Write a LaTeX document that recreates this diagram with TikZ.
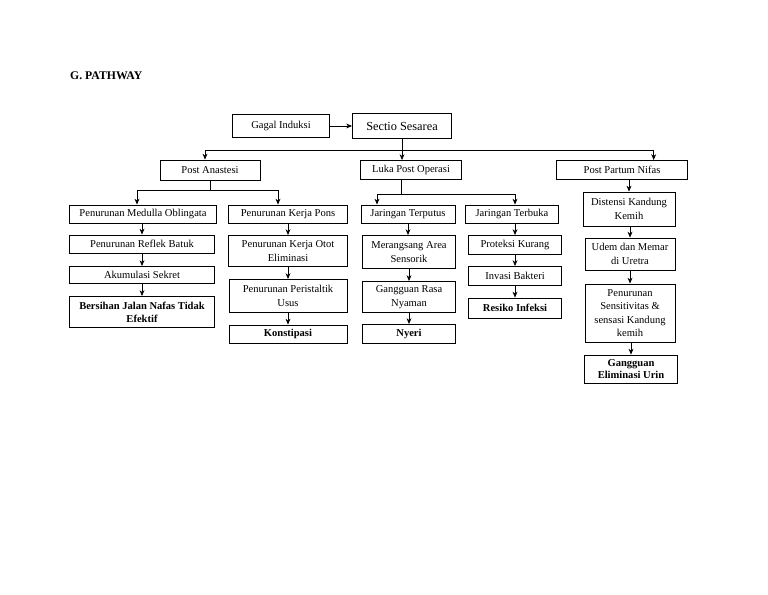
\documentclass[tikz,border=0pt]{standalone}
\usepackage{fontspec}
\setmainfont{Liberation Serif}
\usetikzlibrary{arrows.meta}

\begin{document}
\begin{tikzpicture}[x=0.03cm,y=-0.03cm]
\useasboundingbox (0,0) rectangle (768,594);
\node[anchor=west,inner sep=0pt,font=\bfseries\fontsize{10}{12}\selectfont] (title) at (70,76) {G. PATHWAY};
\begin{scope}[every node/.style={rectangle,draw,align=center,inner sep=1pt,line width=0.8pt,font=\fontsize{9}{11.5}\selectfont},
              sz/.style 2 args={minimum width=#1*0.03cm,minimum height=#2*0.03cm},
              bold_box/.style={font=\bfseries\fontsize{9}{11}\selectfont}]
    \node[sz={97}{23}] (gagal) at (281,126) {Gagal Induksi};
    \node[sz={99}{25},font=\fontsize{10.5}{12}\selectfont] (sectio) at (402,126) {Sectio Sesarea};
    \node[sz={100}{20}] (anastesi) at (210,170) {Post Anastesi};
    \node[sz={101}{19}] (luka) at (411,170) {Luka Post Operasi};
    \node[sz={131}{19}] (nifas) at (622,170) {Post Partum Nifas};
    % post anastesi
    \node[sz={147}{18}] (medulla) at (143,214) {Penurunan Medulla Oblingata};
    \node[sz={145}{18}] (reflek) at (142,244) {Penurunan Reflek Batuk};
    \node[sz={145}{17}] (sekret) at (142,275) {Akumulasi Sekret};
    \node[sz={145}{31},bold_box] (bersihan) at (142,312) {Bersihan Jalan Nafas Tidak\\Efektif};
    \node[sz={119}{18}] (pons) at (288,214) {Penurunan Kerja Pons};
    \node[sz={119}{31}] (otot) at (288,251) {Penurunan Kerja Otot\\Eliminasi};
    \node[sz={118}{33}] (usus) at (288,296) {Penurunan Peristaltik\\Usus};
    \node[sz={118}{18},bold_box] (konstipasi) at (288,334) {Konstipasi};
    % luka post operasi
    \node[sz={94}{18}] (terputus) at (408,214) {Jaringan Terputus};
    \node[sz={93}{33}] (sensorik) at (409,252) {Merangsang Area\\Sensorik};
    \node[sz={93}{31}] (nyaman) at (409,297) {Gangguan Rasa\\Nyaman};
    \node[sz={93}{19},bold_box] (nyeri) at (409,334) {Nyeri};
    \node[sz={93}{18}] (terbuka) at (512,214) {Jaringan Terbuka};
    \node[sz={93}{19}] (proteksi) at (515,245) {Proteksi Kurang};
    \node[sz={93}{19}] (bakteri) at (515,276) {Invasi Bakteri};
    \node[sz={93}{20},bold_box] (infeksi) at (515,308) {Resiko Infeksi};
    % post partum
    \node[sz={92}{34}] (distensi) at (629,209) {Distensi Kandung\\Kemih};
    \node[sz={90}{32}] (uretra) at (630,254) {Udem dan Memar\\di Uretra};
    \node[sz={90}{58}] (sensasi) at (630,313) {Penurunan\\Sensitivitas \&\\sensasi Kandung\\kemih};
    \node[sz={93}{28},bold_box,inner sep=0.5pt] (urin) at (631,369) {Gangguan\\Eliminasi Urin};
\end{scope}
\begin{scope}[>={Stealth[black,length=5pt,width=4.2pt]},
              thin_edge/.style={draw=black,line width=0.6pt}]
    \path [->] (gagal) edge [thin_edge] (sectio);
    \draw [->,thin_edge] (sectio.south) -- ++(0,11) -| ([xshift=-0.15cm]anastesi.north);
    \draw [->,thin_edge] (sectio.south) -- ++(0,11) -| ([xshift=0.95cm]nifas.north);
    \path [->] (sectio.south) edge [thin_edge] (sectio.south |- luka.north);
    \draw [->,thin_edge] (anastesi.south) -- ++(0,10) -| ([xshift=-0.18cm]medulla.north);
    \draw [->,thin_edge] (anastesi.south) -- ++(0,10) -| ([xshift=-0.3cm]pons.north);
    \draw [->,thin_edge] ([xshift=-0.3cm]luka.south) -- ++(0,14) -| ([xshift=-0.93cm]terputus.north);
    \draw [->,thin_edge] ([xshift=-0.3cm]luka.south) -- ++(0,14) -| ([xshift=0.09cm]terbuka.north);
    \path [->] (reflek.north |- medulla.south) edge [thin_edge] (reflek.north);
    \path [->] (sekret.north |- reflek.south) edge [thin_edge] (sekret.north);
    \path [->] (bersihan.north |- sekret.south) edge [thin_edge] (bersihan.north);
    \path [->] (otot.north |- pons.south) edge [thin_edge] (otot.north);
    \path [->] (usus.north |- otot.south) edge [thin_edge] (usus.north);
    \path [->] (konstipasi.north |- usus.south) edge [thin_edge] (konstipasi.north);
    \path [->] (terputus.north |- terputus.south) edge [thin_edge] (terputus.north |- sensorik.north);
    \path [->] (sensorik.north |- sensorik.south) edge [thin_edge] (sensorik.north |- nyaman.north);
    \path [->] (nyeri.north |- nyaman.south) edge [thin_edge] (nyeri.north);
    \path [->] (proteksi.north |- terbuka.south) edge [thin_edge] (proteksi.north);
    \path [->] (bakteri.north |- proteksi.south) edge [thin_edge] (bakteri.north);
    \path [->] (infeksi.north |- bakteri.south) edge [thin_edge] (infeksi.north);
    \path [->] (distensi.north |- nifas.south) edge [thin_edge] (distensi.north);
    \path [->] (uretra.north |- distensi.south) edge [thin_edge] (uretra.north);
    \path [->] (sensasi.north |- uretra.south) edge [thin_edge] (sensasi.north);
    \path [->] (urin.north |- sensasi.south) edge [thin_edge] (urin.north);
\end{scope}
\end{tikzpicture}
\end{document}
